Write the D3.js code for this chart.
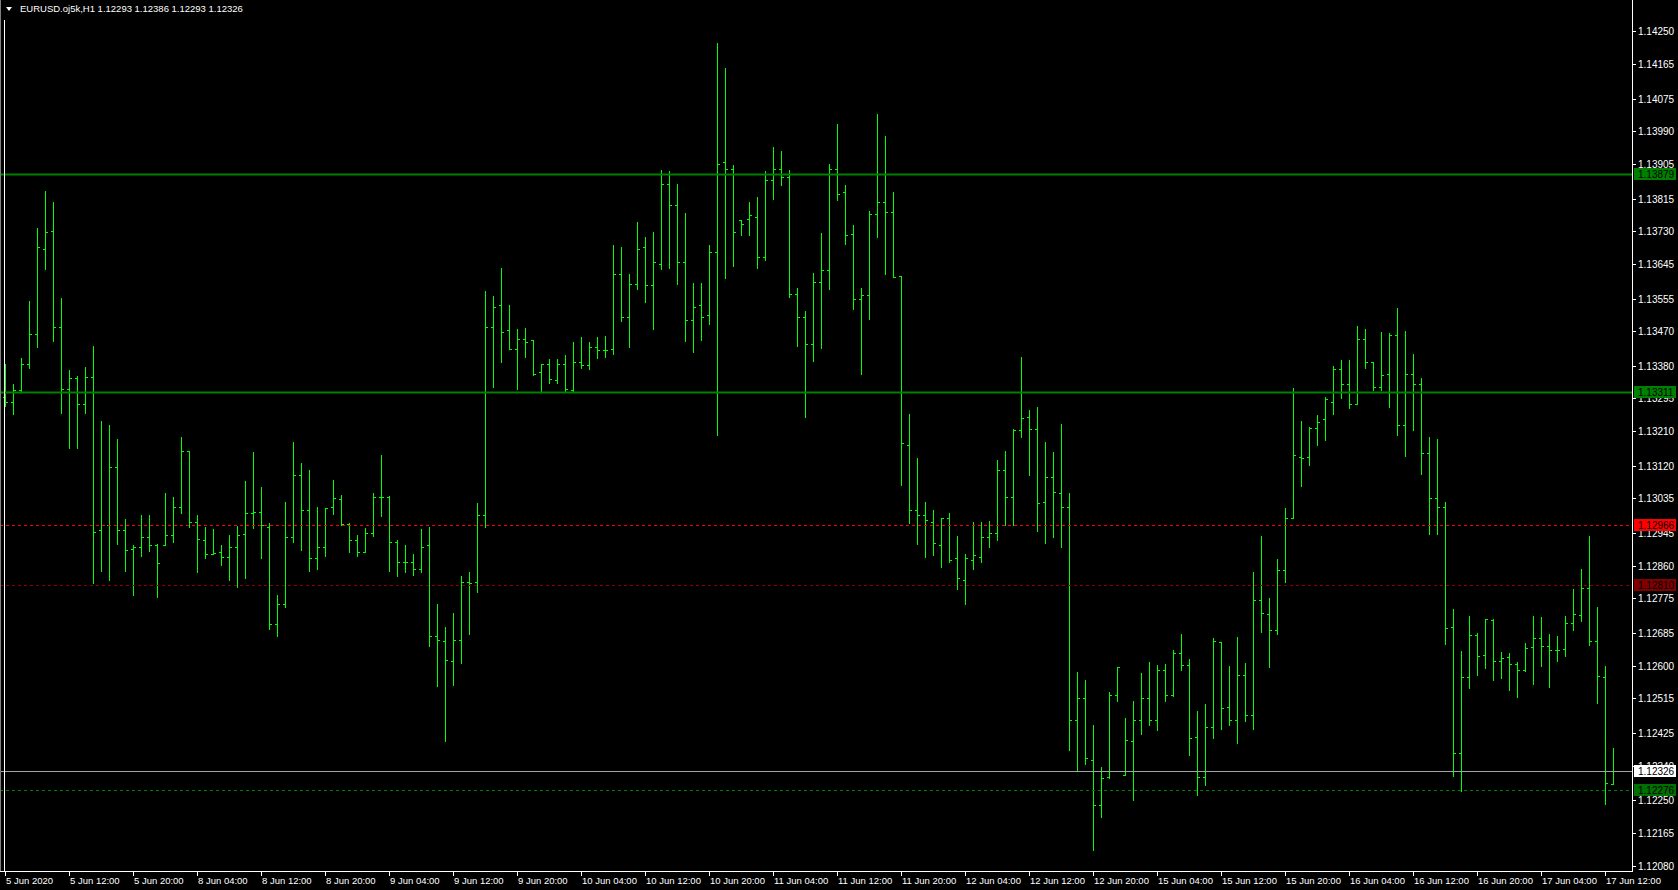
<!DOCTYPE html>
<html><head><meta charset="utf-8">
<script src="https://cdn.jsdelivr.net/npm/d3@7"></script>
<style>html,body{margin:0;padding:0;background:#000;overflow:hidden}</style>
</head><body><svg id="c" width="1678" height="890"></svg>
<script>
const symbolTitle = "EURUSD.oj5k,H1  1.12293 1.12386 1.12293 1.12326";
const timeLabels = ["5 Jun 2020","5 Jun 12:00","5 Jun 20:00","8 Jun 04:00","8 Jun 12:00","8 Jun 20:00","9 Jun 04:00","9 Jun 12:00","9 Jun 20:00","10 Jun 04:00","10 Jun 12:00","10 Jun 20:00","11 Jun 04:00","11 Jun 12:00","11 Jun 20:00","12 Jun 04:00","12 Jun 12:00","12 Jun 20:00","15 Jun 04:00","15 Jun 12:00","15 Jun 20:00","16 Jun 04:00","16 Jun 12:00","16 Jun 20:00","17 Jun 04:00","17 Jun 12:00"];
const priceTicks = [1.14250,1.14165,1.14075,1.13990,1.13905,1.13815,1.13730,1.13645,1.13555,1.13470,1.13380,1.13295,1.13210,1.13120,1.13035,1.12945,1.12860,1.12775,1.12685,1.12600,1.12515,1.12425,1.12340,1.12250,1.12165,1.12080];
const opens = [1.13300,1.13285,1.13316,1.13386,1.13462,1.13685,1.13730,1.13482,1.13319,1.13347,1.13280,1.13352,1.12952,1.12967,1.13117,1.12952,1.12903,1.12910,1.12934,1.12913,
1.12913,1.12939,1.13012,1.13158,1.12975,1.12926,1.12890,1.12895,1.12884,1.12910,1.12942,1.12996,1.12999,1.12962,1.12708,1.12760,1.12936,1.13096,1.13004,1.12879,
1.12910,1.13012,1.13033,1.12968,1.12926,1.12897,1.12944,1.13038,1.13038,1.12921,1.12869,1.12871,1.12851,1.12913,1.12676,1.12663,1.12611,1.12666,1.12817,1.12817,
1.12991,1.13482,1.13537,1.13472,1.13423,1.13449,1.13446,1.13363,1.13384,1.13342,1.13386,1.13316,1.13391,1.13381,1.13430,1.13422,1.13425,1.13620,1.13508,1.13592,
1.13688,1.13589,1.13646,1.13854,1.13797,1.13651,1.13498,1.13537,1.13511,1.13677,1.13909,1.13891,1.13758,1.13761,1.13768,1.13664,1.13862,1.13891,1.13872,1.13568,
1.13508,1.13436,1.13597,1.13628,1.13891,1.13831,1.13722,1.13553,1.13563,1.13776,1.13807,1.13781,1.13613,1.13175,1.13004,1.12991,1.12975,1.12915,1.12983,1.12879,
1.12824,1.12876,1.12884,1.12934,1.12945,1.13108,1.13038,1.13212,1.13246,1.13215,1.13025,1.13090,1.13048,1.13012,1.12460,1.12515,1.12356,1.12237,1.12310,1.12525,
1.12316,1.12403,1.12458,1.12515,1.12458,1.12590,1.12525,1.12632,1.12603,1.12414,1.12310,1.12440,1.12662,1.12492,1.12458,1.12575,1.12473,1.12772,1.12734,1.12692,
1.12848,1.12983,1.13144,1.13142,1.13217,1.13241,1.13287,1.13373,1.13332,1.13280,1.13451,1.13391,1.13326,1.13358,1.13459,1.13225,1.13358,1.13332,1.13152,1.13035,
1.13014,1.12700,1.12372,1.12570,1.12681,1.12627,1.12719,1.12611,1.12623,1.12604,1.12589,1.12649,1.12672,1.12651,1.12641,1.12643,1.12711,1.12732,1.12802,1.12663,
1.12571,1.12293];
const highs = [1.13385,1.13332,1.13400,1.13548,1.13738,1.13834,1.13806,1.13556,1.13369,1.13353,1.13377,1.13431,1.13236,1.13226,1.13189,1.12981,1.12914,1.12992,1.12992,1.12917,
1.13049,1.13039,1.13195,1.13158,1.12992,1.12961,1.12956,1.12914,1.12940,1.12963,1.13080,1.13156,1.13065,1.12970,1.12784,1.13026,1.13182,1.13127,1.13109,1.13013,
1.13010,1.13083,1.13044,1.12971,1.12940,1.12958,1.13049,1.13148,1.13041,1.12927,1.12914,1.12891,1.12956,1.12961,1.12760,1.12701,1.12737,1.12833,1.12843,1.13023,
1.13574,1.13561,1.13634,1.13538,1.13476,1.13478,1.13446,1.13386,1.13397,1.13397,1.13407,1.13443,1.13456,1.13443,1.13454,1.13457,1.13694,1.13689,1.13618,1.13754,
1.13715,1.13728,1.13889,1.13886,1.13852,1.13777,1.13595,1.13595,1.13694,1.14219,1.14154,1.13902,1.13758,1.13806,1.13819,1.13886,1.13949,1.13938,1.13889,1.13582,
1.13522,1.13621,1.13725,1.13905,1.14009,1.13850,1.13746,1.13582,1.13782,1.14035,1.13977,1.13832,1.13613,1.13254,1.13140,1.13025,1.13005,1.12984,1.12997,1.12937,
1.12890,1.12973,1.12973,1.12976,1.13135,1.13158,1.13215,1.13403,1.13265,1.13273,1.13182,1.13156,1.13229,1.13049,1.12584,1.12563,1.12446,1.12336,1.12531,1.12597,
1.12464,1.12508,1.12581,1.12610,1.12602,1.12604,1.12641,1.12682,1.12617,1.12482,1.12500,1.12672,1.12662,1.12599,1.12674,1.12607,1.12844,1.12937,1.12776,1.12877,
1.13010,1.13322,1.13236,1.13221,1.13252,1.13299,1.13379,1.13395,1.13395,1.13483,1.13476,1.13391,1.13468,1.13465,1.13530,1.13470,1.13411,1.13348,1.13195,1.13189,
1.13026,1.12747,1.12638,1.12729,1.12685,1.12721,1.12721,1.12636,1.12633,1.12610,1.12659,1.12729,1.12727,1.12682,1.12677,1.12729,1.12800,1.12852,1.12937,1.12753,
1.12600,1.12386];
const lows = [1.13276,1.13255,1.13312,1.13375,1.13430,1.13632,1.13445,1.13258,1.13167,1.13167,1.13258,1.12816,1.12847,1.12824,1.12917,1.12847,1.12784,1.12886,1.12899,1.12780,
1.12913,1.12923,1.12998,1.12962,1.12845,1.12881,1.12890,1.12863,1.12824,1.12806,1.12829,1.12959,1.12881,1.12696,1.12678,1.12754,1.12923,1.12902,1.12847,1.12852,
1.12886,1.12995,1.12967,1.12897,1.12886,1.12897,1.12938,1.12990,1.12847,1.12834,1.12845,1.12837,1.12845,1.12652,1.12548,1.12405,1.12550,1.12608,1.12683,1.12792,
1.12961,1.13326,1.13391,1.13423,1.13320,1.13404,1.13357,1.13311,1.13336,1.13336,1.13311,1.13315,1.13375,1.13372,1.13401,1.13403,1.13411,1.13497,1.13429,1.13580,
1.13546,1.13476,1.13632,1.13635,1.13593,1.13445,1.13416,1.13448,1.13489,1.13200,1.13609,1.13640,1.13721,1.13721,1.13635,1.13656,1.13814,1.13851,1.13559,1.13432,
1.13247,1.13393,1.13427,1.13580,1.13812,1.13697,1.13528,1.13359,1.13502,1.13716,1.13619,1.13612,1.13071,1.12972,1.12917,1.12883,1.12888,1.12857,1.12870,1.12800,
1.12761,1.12852,1.12870,1.12909,1.12927,1.12967,1.12967,1.13195,1.13097,1.12951,1.12920,1.12936,1.12910,1.12382,1.12330,1.12345,1.12121,1.12207,1.12309,1.12509,
1.12316,1.12251,1.12423,1.12447,1.12434,1.12509,1.12522,1.12590,1.12369,1.12264,1.12290,1.12413,1.12436,1.12447,1.12400,1.12457,1.12436,1.12688,1.12597,1.12683,
1.12818,1.12983,1.13068,1.13123,1.13175,1.13188,1.13255,1.13297,1.13271,1.13280,1.13375,1.13318,1.13318,1.13274,1.13201,1.13146,1.13214,1.13099,1.12943,1.12943,
1.12657,1.12314,1.12275,1.12543,1.12576,1.12595,1.12564,1.12569,1.12538,1.12519,1.12587,1.12553,1.12600,1.12545,1.12611,1.12626,1.12694,1.12717,1.12655,1.12504,
1.12241,1.12293];
const closes = [1.13285,1.13316,1.13386,1.13462,1.13688,1.13727,1.13482,1.13319,1.13347,1.13280,1.13352,1.12949,1.12967,1.13117,1.12954,1.12901,1.12910,1.12934,1.12913,1.12866,
1.12939,1.13012,1.13158,1.12973,1.12929,1.12890,1.12892,1.12884,1.12910,1.12939,1.12996,1.12999,1.12965,1.12708,1.12760,1.12934,1.13095,1.13004,1.12879,1.12910,
1.13009,1.13035,1.12968,1.12926,1.12897,1.12944,1.13038,1.13038,1.12921,1.12871,1.12871,1.12851,1.12910,1.12676,1.12666,1.12614,1.12668,1.12817,1.12814,1.12993,
1.13482,1.13534,1.13469,1.13423,1.13451,1.13443,1.13360,1.13384,1.13345,1.13386,1.13319,1.13391,1.13381,1.13428,1.13420,1.13422,1.13620,1.13508,1.13592,1.13685,
1.13589,1.13649,1.13852,1.13797,1.13651,1.13498,1.13534,1.13508,1.13675,1.13906,1.13891,1.13727,1.13750,1.13771,1.13664,1.13862,1.13891,1.13870,1.13568,1.13506,
1.13436,1.13597,1.13628,1.13893,1.13828,1.13719,1.13553,1.13563,1.13774,1.13807,1.13781,1.13612,1.13178,1.13006,1.12991,1.12978,1.12918,1.12983,1.12876,1.12827,
1.12879,1.12887,1.12934,1.12945,1.13108,1.13040,1.13212,1.13243,1.13215,1.13022,1.13090,1.13051,1.13012,1.12460,1.12515,1.12359,1.12237,1.12307,1.12525,1.12597,
1.12406,1.12458,1.12515,1.12458,1.12588,1.12525,1.12632,1.12603,1.12411,1.12310,1.12440,1.12663,1.12489,1.12458,1.12575,1.12473,1.12770,1.12736,1.12694,1.12850,
1.12983,1.13147,1.13139,1.13217,1.13235,1.13293,1.13371,1.13332,1.13280,1.13451,1.13391,1.13324,1.13355,1.13459,1.13225,1.13358,1.13332,1.13152,1.13035,1.13012,
1.12697,1.12372,1.12570,1.12679,1.12624,1.12721,1.12611,1.12620,1.12604,1.12589,1.12646,1.12672,1.12651,1.12641,1.12641,1.12711,1.12734,1.12802,1.12663,1.12573,
1.12294,1.12326];
const levelPrices = [1.13879, 1.13311, 1.12966, 1.12810, 1.12326, 1.12276];
const levelKinds  = ["solid", "solid", "dash", "dash", "bid", "dash"];
const levelColors = ["#008000", "#008000", "#ff0000", "#8b0000", "#a0a4ac", "#008000"];
const levelBoxes  = ["#008000", "#008000", "#ff0000", "#800000", "#ffffff", "#007000"];

const W = 1678, H = 890;
const plotRight = 1632, plotBottom = 871;
const svg = d3.select("#c");
const FONT = "'Liberation Sans', Arial, sans-serif";

svg.append("rect").attr("width", W).attr("height", H).attr("fill", "#000");

const n = opens.length;
const x = d3.scaleLinear().domain([0, n - 1]).range([5, 5 + 8 * (n - 1)]);
const y = d3.scaleLinear().domain([1.120635, 1.143314]).range([872, 0]);
const py = p => Math.round(y(p));

const plot = svg.append("g");

// bars
const bars = plot.append("g").attr("fill", "#00ff00");
d3.range(n).forEach(i => {
  const xi = Math.round(x(i));
  const yh = py(highs[i]), yl = py(lows[i]);
  bars.append("rect").attr("x", xi).attr("y", yh).attr("width", 1).attr("height", Math.max(1, yl - yh + 1));
  bars.append("rect").attr("x", xi - 2).attr("y", py(opens[i])).attr("width", 2).attr("height", 1);
  bars.append("rect").attr("x", xi + 1).attr("y", py(closes[i])).attr("width", 2).attr("height", 1);
});

// level lines
levelPrices.forEach((p, k) => {
  const yy = py(p);
  const kind = levelKinds[k];
  const ln = plot.append("line")
    .attr("x1", 0).attr("x2", plotRight)
    .attr("stroke", levelColors[k]);
  if (kind === "solid") {
    ln.attr("y1", yy + 0.5).attr("y2", yy + 0.5).attr("stroke-width", 2);
  } else {
    ln.attr("y1", yy + 0.5).attr("y2", yy + 0.5).attr("stroke-width", 1);
    if (kind === "dash") ln.attr("stroke-dasharray", "3,3");
  }
});

// left border
svg.append("rect").attr("x", 0).attr("y", 0).attr("width", 1).attr("height", plotBottom).attr("fill", "#808080");
svg.append("rect").attr("x", 4).attr("y", 20).attr("width", 1).attr("height", plotBottom - 20).attr("fill", "#ffffff");

// axes lines
svg.append("rect").attr("x", plotRight).attr("y", 0).attr("width", 1).attr("height", plotBottom + 1).attr("fill", "#fff");
svg.append("rect").attr("x", 0).attr("y", plotBottom).attr("width", plotRight + 1).attr("height", 1).attr("fill", "#fff");

// price ticks
const pt = svg.append("g");
priceTicks.forEach(p => {
  const yy = py(p);
  pt.append("rect").attr("x", plotRight + 1).attr("y", yy).attr("width", 3).attr("height", 1).attr("fill", "#fff");
  pt.append("text").attr("x", plotRight + 6).attr("y", yy + 4)
    .attr("fill", "#fff").attr("font-family", FONT).attr("font-size", "10px")
    .text(p.toFixed(5));
});

// level boxes
levelPrices.forEach((p, k) => {
  const yy = py(p);
  svg.append("rect").attr("x", plotRight + 2).attr("y", yy - 6).attr("width", 42).attr("height", 12).attr("fill", levelBoxes[k]);
  svg.append("text").attr("x", plotRight + 6).attr("y", yy + 4)
    .attr("fill", "#000").attr("font-family", FONT).attr("font-size", "10px")
    .text(p.toFixed(5));
});

// time ticks
const tg = svg.append("g");
timeLabels.forEach((t, k) => {
  const xi = Math.round(x(k * 8));
  tg.append("rect").attr("x", xi).attr("y", plotBottom + 1).attr("width", 1).attr("height", 4).attr("fill", "#fff");
  tg.append("text").attr("x", xi + 1).attr("y", plotBottom + 13)
    .attr("fill", "#fff").attr("font-family", FONT).attr("font-size", "9.5px")
    .text(t);
});

// header
svg.append("path").attr("d", "M6,7 L12,7 L9,11 Z").attr("fill", "#fff");
svg.append("text").attr("x", 20).attr("y", 12)
  .attr("fill", "#fff").attr("font-family", FONT).attr("font-size", "9.5px")
  .text(symbolTitle);
</script>
</body></html>
